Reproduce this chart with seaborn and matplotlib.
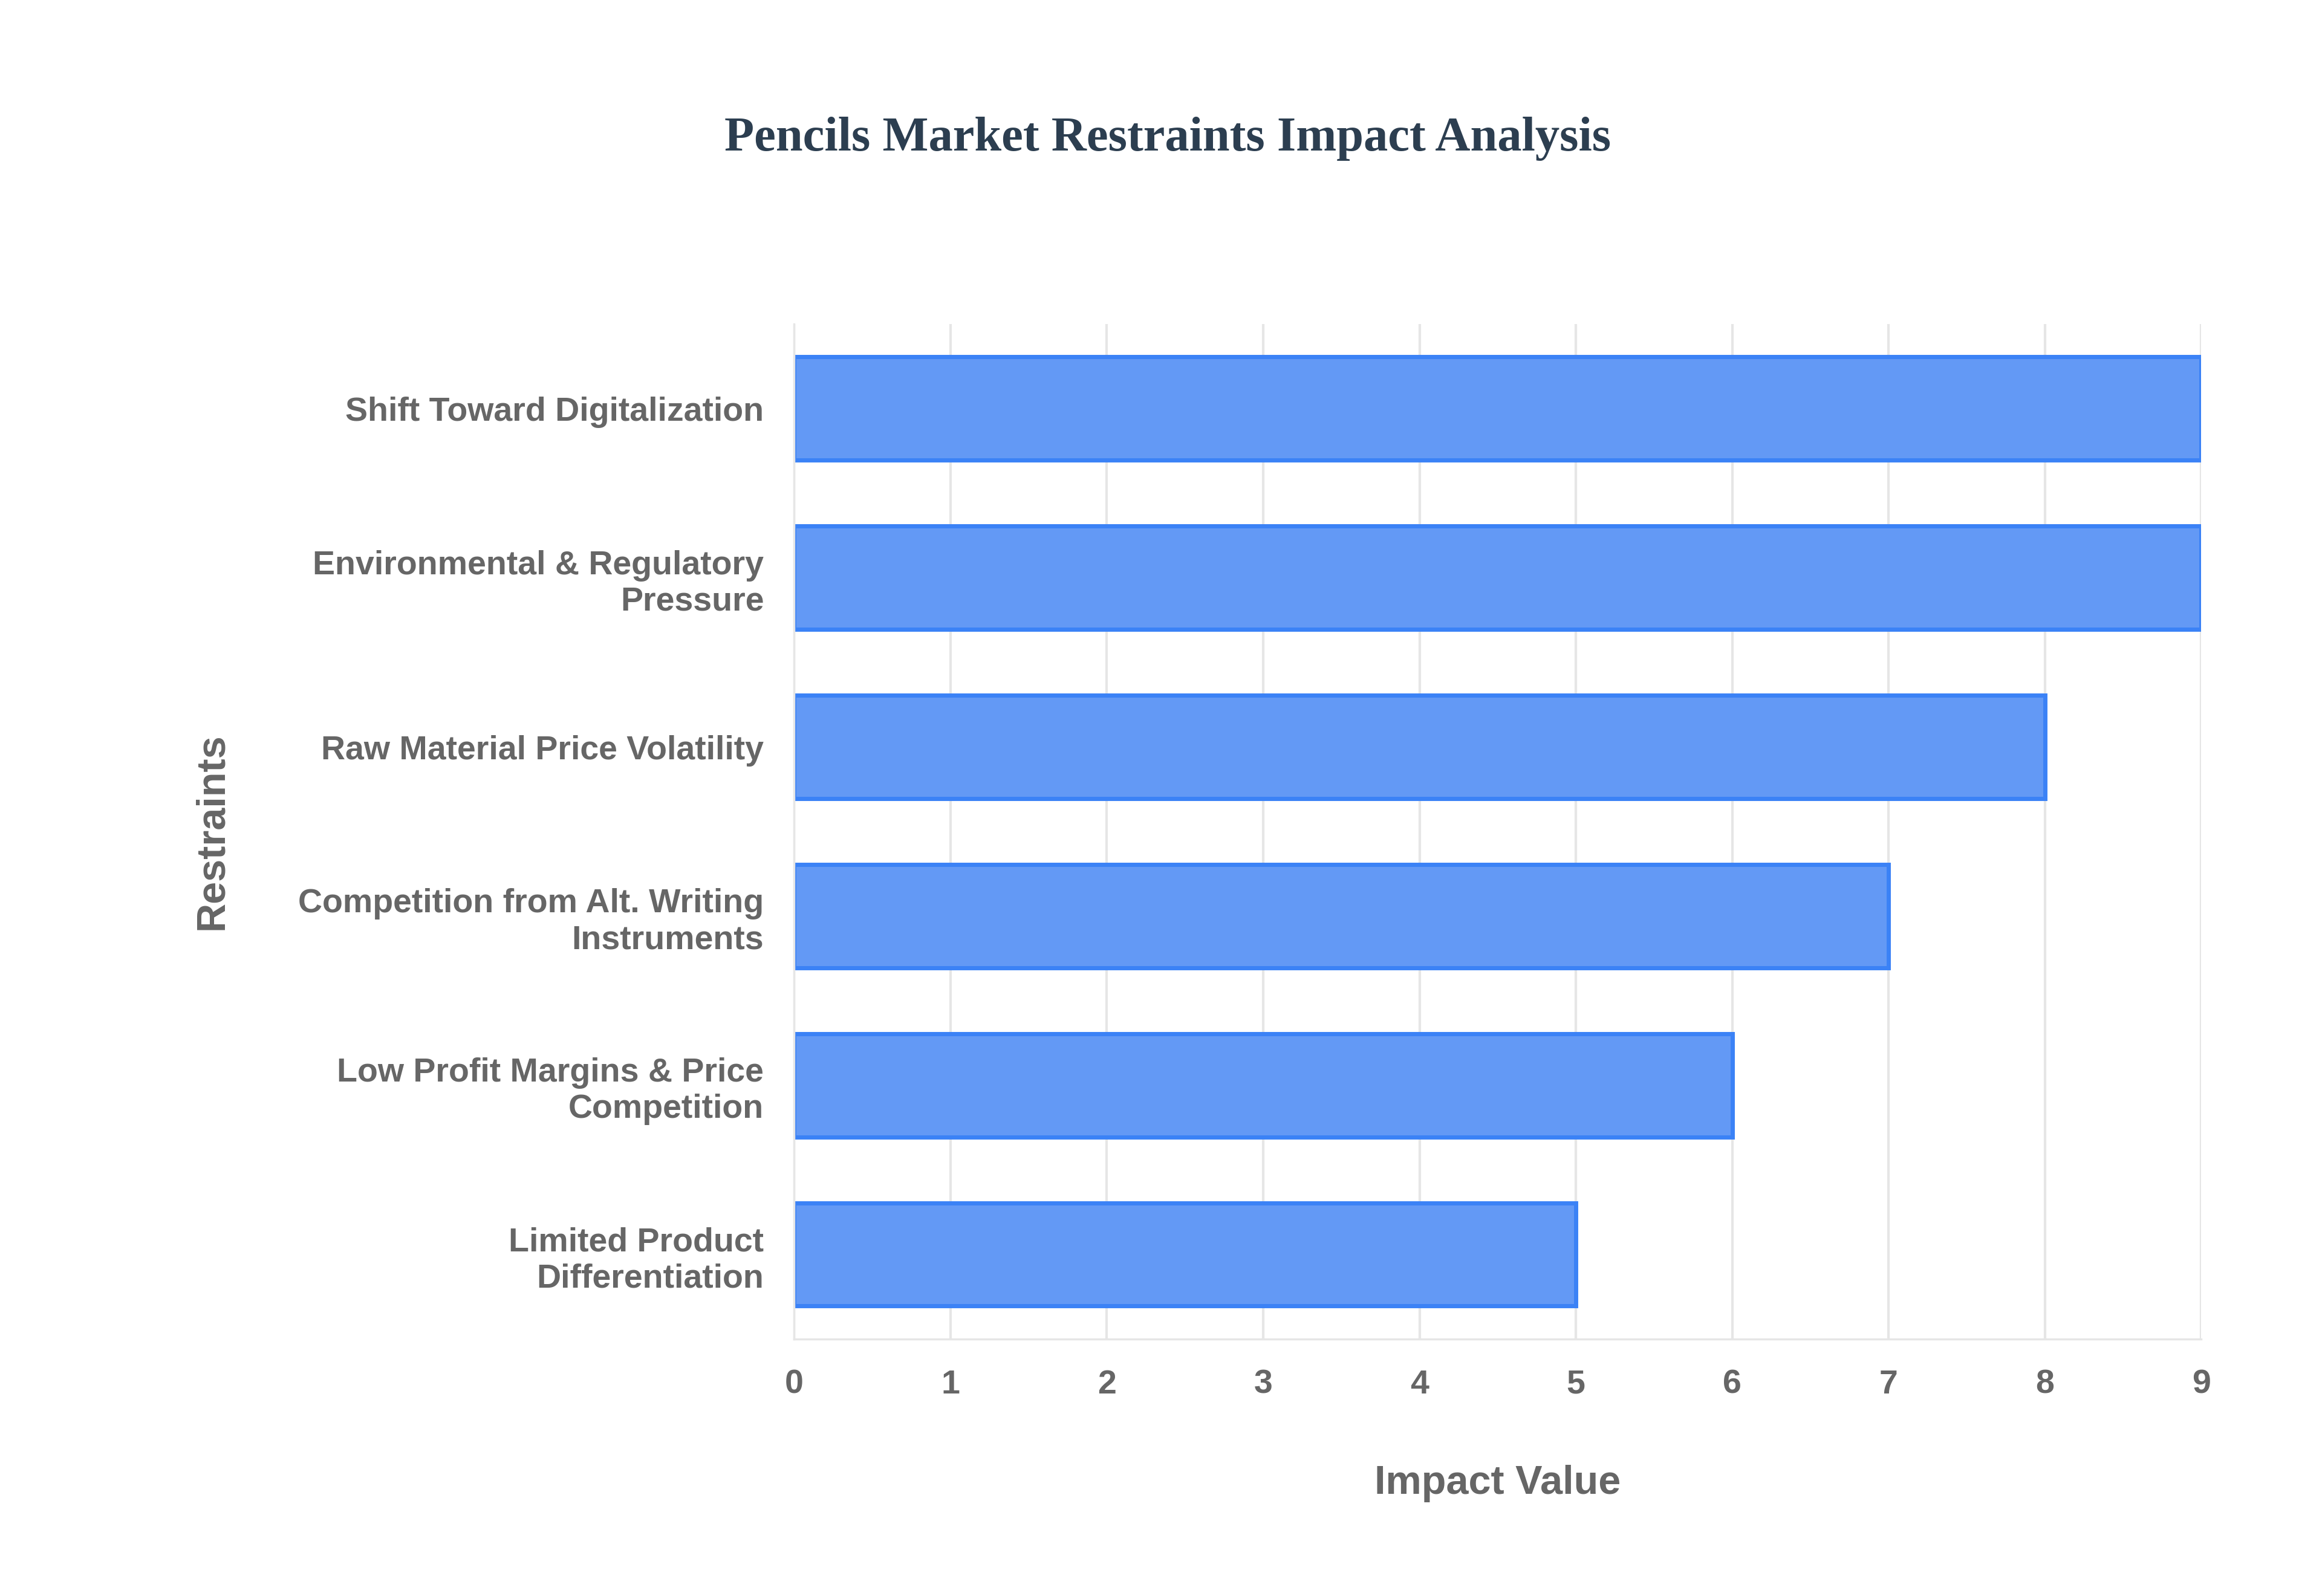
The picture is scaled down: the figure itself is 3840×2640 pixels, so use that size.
import matplotlib
matplotlib.use("Agg")
import matplotlib.pyplot as plt
import seaborn as sns
import pandas as pd

restraints = ["Shift Toward Digitalization", "Environmental & Regulatory\nPressure",
              "Raw Material Price Volatility", "Competition from Alt. Writing\nInstruments",
              "Low Profit Margins & Price\nCompetition", "Limited Product\nDifferentiation"]
impact = [9, 9, 8, 7, 6, 5]
df = pd.DataFrame({"Restraint": restraints, "Impact": impact})

sns.set_theme(style="white")
plt.rcParams['font.family'] = ['Liberation Sans', 'DejaVu Sans']
fig = plt.figure(figsize=(19.2, 13.2), dpi=200)
ax = fig.add_axes([0.342, 0.161, 0.606, 0.636])
sns.barplot(data=df, x="Impact", y="Restraint", orient="h", ax=ax, width=0.61,
            color="#6399f5", edgecolor="#3b82f6", linewidth=2.5, saturation=1)
ax.set_xlim(0, 9)
ax.set_xticks(range(10))
ax.grid(axis="x", color="#e6e6e6", linewidth=1.5)
ax.set_axisbelow(True)
for s in ["top", "right"]:
    ax.spines[s].set_visible(False)
for s in ["left", "bottom"]:
    ax.spines[s].set_color("#e6e6e6")
ax.tick_params(axis="both", length=0, labelsize=20, labelcolor="#666666", pad=18)
for t in ax.get_xticklabels() + ax.get_yticklabels():
    t.set_fontweight("bold")
ax.set_xlabel("Impact Value", fontsize=24, fontweight="bold", color="#666666", labelpad=38)
ax.set_ylabel("Restraints", fontsize=24, fontweight="bold", color="#666666", labelpad=40)
fig.text(0.503, 0.913, "Pencils Market Restraints Impact Analysis", ha="center", va="center",
         fontsize=29, fontweight="bold", color="#2c3e50", family="Liberation Serif")
fig.savefig("out.png", dpi=200)
